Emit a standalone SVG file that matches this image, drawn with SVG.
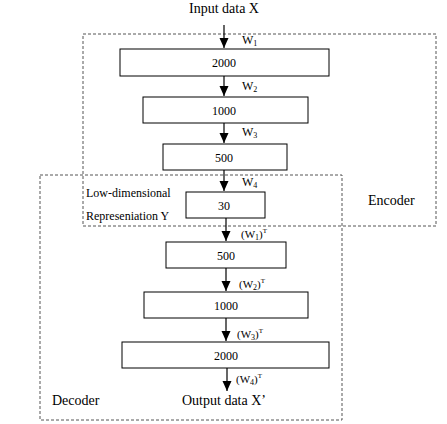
<svg xmlns="http://www.w3.org/2000/svg" width="447" height="424" viewBox="0 0 447 424" font-family="'Liberation Serif','Times New Roman',serif">
<defs>
<marker id="ah" markerUnits="userSpaceOnUse" markerWidth="10" markerHeight="10" refX="10" refY="4.5" orient="auto">
<path d="M0,0 L10,4.5 L0,9 z" fill="#000"/>
</marker>
<style>
text{font-family:"Liberation Serif","Times New Roman",serif;fill:#000}
.box{fill:#fff;stroke:#000;stroke-width:1}
.dash{fill:none;stroke:#555;stroke-width:1;stroke-dasharray:3,2}
.arr{stroke:#000;stroke-width:1.2;fill:none;marker-end:url(#ah)}
.n{font-size:12px;text-anchor:middle}
.w{font-size:12px}
</style>
</defs>
<rect width="447" height="424" fill="#fff"/>
<g id="encoder-frame"><rect class="dash" x="83" y="34" width="353" height="192"/><text x="368" y="205" font-size="14">Encoder</text></g>
<g id="decoder-frame"><rect class="dash" x="40" y="175" width="302" height="245"/><text x="52" y="405" font-size="14">Decoder</text></g>
<g id="input"><text x="224" y="13" font-size="14" text-anchor="middle">Input data X</text></g>
<g id="enc2000"><rect class="box" x="120" y="49" width="209" height="27"/><text class="n" x="224" y="67">2000</text></g>
<g id="enc1000"><rect class="box" x="143" y="97" width="165" height="26"/><text class="n" x="224" y="115">1000</text></g>
<g id="enc500"><rect class="box" x="163" y="144" width="124" height="26"/><text class="n" x="224" y="162">500</text></g>
<g id="code30"><rect class="box" x="186" y="192" width="79" height="26"/><text class="n" x="224" y="210">30</text>
<text x="86" y="197" font-size="12">Low-dimensional</text><text x="86" y="220" font-size="12">Represeniation Y</text></g>
<g id="dec500"><rect class="box" x="166" y="242" width="120" height="26"/><text class="n" x="226" y="260">500</text></g>
<g id="dec1000"><rect class="box" x="144" y="292" width="164" height="26"/><text class="n" x="226" y="310">1000</text></g>
<g id="dec2000"><rect class="box" x="122" y="342" width="207" height="26"/><text class="n" x="226" y="360">2000</text></g>
<g id="output"><text x="182" y="405" font-size="14">Output data X’</text></g>
<g id="connectors">
<line class="arr" x1="224" y1="25" x2="224" y2="48"/>
<line class="arr" x1="224" y1="76" x2="224" y2="96"/>
<line class="arr" x1="224" y1="123" x2="224" y2="143"/>
<line class="arr" x1="224" y1="170" x2="224" y2="191"/>
<line class="arr" x1="226" y1="218" x2="226" y2="241"/>
<line class="arr" x1="226" y1="268" x2="226" y2="291"/>
<line class="arr" x1="226" y1="318" x2="226" y2="341"/>
<line class="arr" x1="227" y1="368" x2="227" y2="391"/>
<text class="w" x="242" y="44">W<tspan font-size="8" dy="2">1</tspan></text>
<text class="w" x="242" y="90">W<tspan font-size="8" dy="2">2</tspan></text>
<text class="w" x="242" y="136">W<tspan font-size="8" dy="2">3</tspan></text>
<text class="w" x="242" y="186">W<tspan font-size="8" dy="2">4</tspan></text>
<text font-size="11" x="241" y="238">(W<tspan font-size="8" dy="2">1</tspan><tspan dy="-2">)</tspan><tspan font-size="7" dy="-5">T</tspan></text>
<text font-size="11" x="239" y="288">(W<tspan font-size="8" dy="2">2</tspan><tspan dy="-2">)</tspan><tspan font-size="7" dy="-5">T</tspan></text>
<text font-size="11" x="237" y="338">(W<tspan font-size="8" dy="2">3</tspan><tspan dy="-2">)</tspan><tspan font-size="7" dy="-5">T</tspan></text>
<text font-size="11" x="236" y="383">(W<tspan font-size="8" dy="2">4</tspan><tspan dy="-2">)</tspan><tspan font-size="7" dy="-5">T</tspan></text>
</g>
</svg>
